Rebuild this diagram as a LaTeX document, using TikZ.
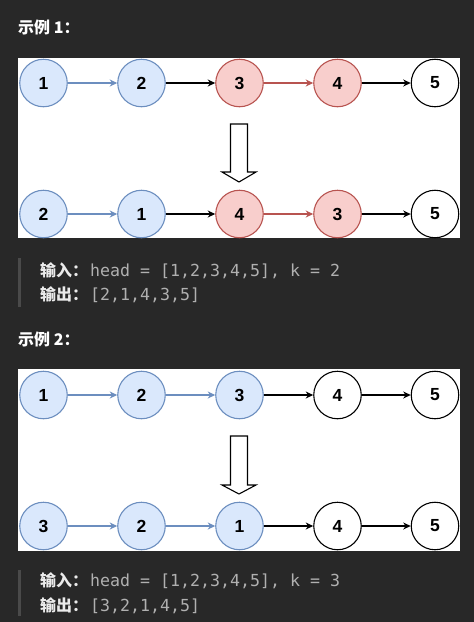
\documentclass[tikz,border=0pt]{standalone}
\usepackage{fontspec}
\setmainfont{Liberation Sans}
\newfontfamily\cjk{Noto Sans CJK SC}
\newfontfamily\codefont{DejaVu Sans Mono}
\usetikzlibrary{arrows.meta}
\definecolor{bgdark}{HTML}{282828}
\definecolor{bluefill}{HTML}{DAE8FC}
\definecolor{blueline}{HTML}{6C8EBF}
\definecolor{redfill}{HTML}{F8CECC}
\definecolor{redline}{HTML}{B85450}
\definecolor{codegrey}{HTML}{B0B0B0}
\definecolor{bargrey}{HTML}{4A4A4A}

\begin{document}
\begin{tikzpicture}[x=1pt,y=-1pt,
  nd/.style={circle,draw,line width=1.1pt,minimum size=47.5pt,inner sep=0pt,
    font=\bfseries\fontsize{17.5}{17.5}\selectfont},
  bnd/.style={nd,fill=bluefill,draw=blueline},
  rnd/.style={nd,fill=redfill,draw=redline},
  wnd/.style={nd,fill=white,draw=black},
  head/.style={anchor=base west,inner sep=0pt,text=white,font=\cjk\bfseries\fontsize{16}{16}\selectfont},
  code/.style={anchor=base west,inner sep=0pt,text=codegrey,font=\codefont\fontsize{16.6}{16}\selectfont},
  bigarrow/.style={draw=black,fill=white,line width=1.1pt,line join=miter}]
\fill[bgdark] (0,0) rectangle (474,622);
\useasboundingbox (0,0) rectangle (474,622);

% example 1
\node[head] (t1) at (18,33) {示例 1：};
\fill[white] (18,58) rectangle (460,238);
\node[bnd] (a1) at (43.5,83) {1};
\node[bnd] (a2) at (141.5,83) {2};
\node[rnd] (a3) at (239.5,83) {3};
\node[rnd] (a4) at (337.5,83) {4};
\node[wnd] (a5) at (435,83) {5};
\node[bnd] (b1) at (43.5,214) {2};
\node[bnd] (b2) at (141.5,214) {1};
\node[rnd] (b3) at (239.5,214) {4};
\node[rnd] (b4) at (337.5,214) {3};
\node[wnd] (b5) at (435,214) {5};
\path[->,>={Stealth[length=7.5pt,width=7pt]},line width=1.1pt]
(a1) edge[draw=blueline] (a2)
(a2) edge (a3)
(a3) edge[draw=redline] (a4)
(a4) edge (a5)
(b1) edge[draw=blueline] (b2)
(b2) edge (b3)
(b3) edge[draw=redline] (b4)
(b4) edge (b5);
\draw[bigarrow] (230.5,124) -- (247.5,124) -- (247.5,172) -- (256,172)
  -- (239,182) -- (222,172) -- (230.5,172) -- cycle;
\draw[bargrey,line width=2.5pt] (19.5,258) -- (19.5,307);
\node[head,text=white!92!black] (in1) at (40,276) {输入：};
\node[code] (inc1) at (90,276) {head = [1,2,3,4,5], k = 2};
\node[head,text=white!92!black] (out1) at (40,300.5) {输出：};
\node[code] (outc1) at (90,300.5) {[2,1,4,3,5]};

% example 2
\node[head] (t2) at (18,345) {示例 2：};
\fill[white] (18,369) rectangle (460,551);
\node[bnd] (c1) at (43.5,395) {1};
\node[bnd] (c2) at (141.5,395) {2};
\node[bnd] (c3) at (239.5,395) {3};
\node[wnd] (c4) at (337.5,395) {4};
\node[wnd] (c5) at (435,395) {5};
\node[bnd] (d1) at (43.5,526) {3};
\node[bnd] (d2) at (141.5,526) {2};
\node[bnd] (d3) at (239.5,526) {1};
\node[wnd] (d4) at (337.5,526) {4};
\node[wnd] (d5) at (435,526) {5};
\path[->,>={Stealth[length=7.5pt,width=7pt]},line width=1.1pt]
(c1) edge[draw=blueline] (c2)
(c2) edge[draw=blueline] (c3)
(c3) edge (c4)
(c4) edge (c5)
(d1) edge[draw=blueline] (d2)
(d2) edge[draw=blueline] (d3)
(d3) edge (d4)
(d4) edge (d5);
\draw[bigarrow] (230.5,436) -- (247.5,436) -- (247.5,485) -- (256,485)
  -- (239,494) -- (222,485) -- (230.5,485) -- cycle;
\draw[bargrey,line width=2.5pt] (19.5,570) -- (19.5,616);
\node[head,text=white!92!black] (in2) at (40,586.5) {输入：};
\node[code] (inc2) at (90,586.5) {head = [1,2,3,4,5], k = 3};
\node[head,text=white!92!black] (out2) at (40,611) {输出：};
\node[code] (outc2) at (90,611) {[3,2,1,4,5]};
\end{tikzpicture}
\end{document}
